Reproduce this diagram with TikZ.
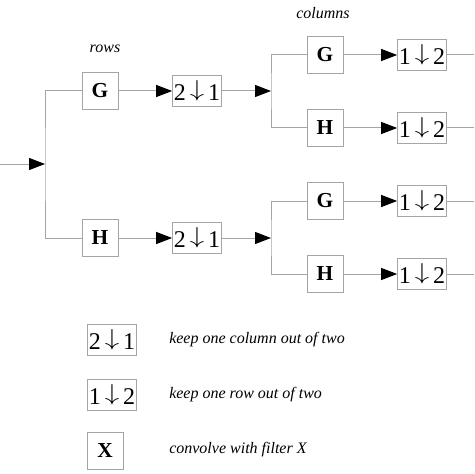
\documentclass[tikz,border=0pt]{standalone}
\usepackage{fontspec}
\setmainfont{Liberation Serif}
\usepackage{xcolor}
\usetikzlibrary{arrows.meta}

\definecolor{wire}{RGB}{165,165,165}
\newcommand{\dn}{\,\raisebox{0.17em}{\scalebox{1.25}[1]{$\downarrow$}}\,}

\tikzset{
  filt/.style={draw=wire, line width=0.75, fill=white, minimum width=27pt, minimum height=27.5pt, inner sep=1pt, font=\fontsize{16}{18}\selectfont\bfseries},
  down/.style={draw=wire, line width=0.75, fill=white, minimum width=36.5pt, minimum height=23.5pt, inner sep=0.5pt, font=\fontsize{18}{20}\selectfont},
  wire/.style={draw=wire, line width=0.75},
  tip/.style={wire, -{Triangle[length=12pt, width=9pt, color=black, fill=black]}},
  lab/.style={font=\fontsize{12}{14}\selectfont\itshape, inner sep=0.75pt}
}

\begin{document}
\begin{tikzpicture}[x=0.75pt,y=0.75pt,yscale=-1,xscale=1]
\useasboundingbox (0,0) rectangle (474,474);

% Text Node
\node[lab] (rows) at (105,49) {rows};
% Text Node
\node[lab] (cols) at (323,13) {columns};

%Rows stage
\coordinate (in) at (0,164);
\coordinate (split) at (45,164);
\node[filt] (G) at (100,91) {G};
\node[filt] (H) at (100,238) {H};
\node[down] (dG) at (197,91) {2\dn 1};
\node[down] (dH) at (197,238) {2\dn 1};
\coordinate (sG) at (271,91);
\coordinate (sH) at (271,238);

%Columns stage
\node[filt] (GG) at (325,55) {G};
\node[filt] (GH) at (325,128) {H};
\node[filt] (HG) at (325,201) {G};
\node[filt] (HH) at (325,274) {H};
\node[down] (dGG) at (422,55) {1\dn 2};
\node[down] (dGH) at (422,128) {1\dn 2};
\node[down] (dHG) at (422,201) {1\dn 2};
\node[down] (dHH) at (422,274) {1\dn 2};
\coordinate (oGG) at (474,55);
\coordinate (oGH) at (474,128);
\coordinate (oHG) at (474,201);
\coordinate (oHH) at (474,274);

%Wires
\draw[tip] (in) -- (split);
\draw[wire] (G.west) -| (split) |- (H.west);
\draw[tip] (G) -- (dG);
\draw[tip] (H) -- (dH);
\draw[tip] (dG) -- (sG);
\draw[tip] (dH) -- (sH);
\draw[wire] (GG.west) -| (sG) |- (GH.west);
\draw[wire] (HG.west) -| (sH) |- (HH.west);
\foreach \b in {GG,GH,HG,HH}{
  \draw[tip] (\b) -- (d\b);
  \draw[wire] (d\b) -- (o\b);
}

%Legend
\node[down] (k1) at (112,340) {2\dn 1};
\node[down] (k2) at (112,395) {1\dn 2};
\node[filt] (k3) at (105,451) {X};
\node[lab, anchor=west] (t1) at (168,340) {keep one column out of two};
\node[lab, anchor=west] (t2) at (168,395) {keep one row out of two};
\node[lab, anchor=west] (t3) at (168,450) {convolve with filter X};

\end{tikzpicture}
\end{document}
